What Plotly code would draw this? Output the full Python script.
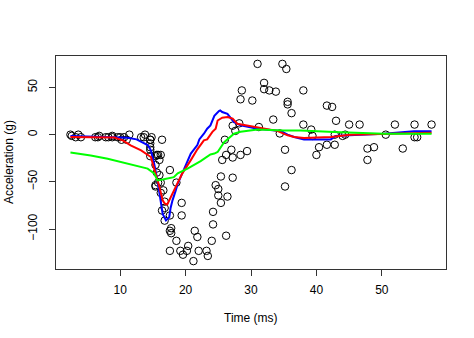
import plotly.graph_objects as go

# Motorcycle crash test: head acceleration vs. time after impact
times = [2.4, 2.6, 3.2, 3.6, 4.0, 6.2, 6.6, 6.8, 7.8, 8.2,
         8.8, 8.8, 9.6, 10.0, 10.2, 10.6, 11.0, 11.4, 13.2, 13.6,
         13.8, 14.6, 14.6, 14.6, 14.6, 14.6, 14.6, 14.8, 15.4, 15.4,
         15.4, 15.4, 15.6, 15.6, 15.8, 15.8, 16.0, 16.0, 16.2, 16.2,
         16.2, 16.4, 16.4, 16.6, 16.8, 16.8, 16.8, 17.6, 17.6, 17.6,
         17.6, 17.8, 17.8, 18.6, 18.6, 19.2, 19.4, 19.4, 19.6, 20.2,
         20.4, 21.2, 21.4, 21.8, 22.0, 23.2, 23.4, 24.0, 24.2, 24.2,
         24.6, 25.0, 25.0, 25.4, 25.4, 25.6, 26.0, 26.2, 26.2, 26.4,
         27.0, 27.2, 27.2, 27.2, 27.6, 28.2, 28.4, 28.4, 28.6, 29.4,
         30.2, 31.0, 31.2, 32.0, 32.0, 32.8, 33.4, 33.8, 34.4, 34.8,
         35.2, 35.2, 35.4, 35.6, 35.6, 36.2, 36.2, 38.0, 38.0, 39.2,
         39.4, 40.0, 40.4, 41.6, 41.6, 42.4, 42.8, 42.8, 43.0, 44.0,
         44.4, 45.0, 46.6, 47.8, 47.8, 48.8, 50.6, 52.0, 53.2, 55.0,
         55.0, 55.4, 57.6]
accel = [0.0, -1.3, -2.7, 0.0, -2.7, -2.7, -2.7, -1.3, -2.7, -2.7,
         -1.3, -2.7, -2.7, -2.7, -5.4, -2.7, -5.4, 0.0, -2.7, -2.7,
         0.0, -13.3, -5.4, -5.4, -9.3, -16.0, -22.8, -2.7, -22.8, -32.1,
         -53.5, -54.9, -40.2, -21.5, -21.5, -50.8, -42.9, -26.8, -21.5, -50.8,
         -61.7, -5.4, -80.4, -59.0, -71.0, -91.1, -77.7, -37.5, -85.6, -123.1,
         -101.9, -99.1, -104.4, -112.5, -50.8, -123.1, -85.6, -72.3, -127.2, -123.1,
         -117.9, -134.0, -101.9, -108.4, -123.1, -123.1, -128.5, -112.5, -95.1, -81.8,
         -53.5, -64.4, -57.6, -72.3, -44.3, -26.8, -5.4, -107.1, -21.5, -65.6,
         -16.0, -45.6, -24.2, 9.5, 4.0, 12.0, -21.5, 37.5, 46.9, -17.4,
         36.2, 75.0, 8.1, 54.9, 48.2, 46.9, 16.0, 45.6, 1.3, 75.0,
         -16.0, -54.9, 69.6, 34.8, 32.1, -37.5, 22.8, 46.9, 10.7, 5.4,
         -1.3, -21.5, -13.3, 30.8, -10.7, 29.4, 0.0, -10.7, 14.7, -1.3,
         0.0, 10.7, 10.7, -26.8, -14.7, -13.3, 0.0, 10.7, -14.7, -2.7,
         10.7, -2.7, 10.7]

# Smoothed fits
blue_x = [2.4, 5.0, 8.0, 11.1, 12.5, 13.2, 14.2, 14.7, 15.2, 15.7, 16.2, 16.5,
          17.0, 17.5, 17.7, 18.0, 18.5, 18.8, 19.8, 20.8, 21.8, 22.1, 22.8, 23.3,
          23.8, 24.4, 25.1, 25.3, 25.6, 26.4, 27.4, 28.4, 31.0, 34.0, 34.5, 35.6,
          36.6, 38.1, 42.2, 42.9, 45.0, 50.3, 54.9, 57.6]
blue_y = [-1.5, -1.8, -2.2, -3.2, -5.0, -7.8, -11.0, -16.6, -30.7, -48.4, -73.0, -84.0,
          -90.8, -87.5, -78.0, -69.6, -59.0, -52.0, -36.0, -20.0, -11.0, -5.0, 1.0, 6.3,
          9.8, 20.0, 25.0, 25.7, 24.0, 22.0, 13.3, 9.8, 6.3, 4.5, 3.8, 0.0,
          -2.5, -5.0, -5.0, -1.5, -0.5, 1.0, 3.5, 3.6]

red_x = [2.4, 5.0, 9.1, 10.4, 11.6, 13.2, 14.4, 14.7, 15.2, 15.6, 16.0, 16.5,
         16.8, 17.2, 17.7, 18.2, 18.8, 19.5, 20.8, 21.8, 22.8, 23.3, 24.1, 24.6,
         24.9, 25.6, 26.4, 27.2, 27.9, 28.4, 31.0, 34.0, 35.6, 36.6, 38.1, 42.2,
         45.2, 50.3, 57.6]
red_y = [-2.5, -2.5, -3.0, -6.0, -11.3, -16.6, -22.0, -23.7, -36.0, -45.0, -55.5, -69.6,
         -73.0, -74.0, -67.0, -59.0, -52.0, -41.0, -27.0, -15.5, -6.0, -5.0, 3.0, 6.3,
         15.0, 18.0, 18.6, 17.0, 11.6, 11.0, 7.4, 4.0, -0.7, -2.5, -3.6, -2.5,
         0.0, 0.5, 2.0]

green_x = [2.4, 5.5, 8.1, 11.1, 13.2, 14.2, 15.2, 15.7, 16.5, 17.2, 18.2, 18.8,
           19.8, 20.3, 22.3, 23.8, 24.4, 24.9, 25.9, 26.4, 26.9, 27.4, 28.4, 31.0,
           35.0, 37.6, 42.7, 50.3, 57.6]
green_y = [-19.0, -22.0, -25.5, -30.7, -34.0, -36.0, -41.0, -48.4, -47.5, -46.6, -45.0, -41.0,
           -37.8, -36.0, -28.0, -21.0, -20.0, -18.4, -8.0, -5.0, -2.5, 1.0, 3.0, 5.5,
           4.5, 4.5, 2.8, 1.0, 1.0]

x_ticks = [10, 20, 30, 40, 50]
y_ticks = [-100, -50, 0, 50]

FONT = "Liberation Sans, Arial, Helvetica, sans-serif"

fig = go.Figure()
fig.add_trace(go.Scatter(
    x=times, y=accel, mode="markers",
    marker=dict(symbol="circle-open", size=7.5, color="black", line=dict(width=1, color="black")),
    showlegend=False, hoverinfo="skip"))
for xs, ys, col in [(blue_x, blue_y, "#0000FF"), (red_x, red_y, "#FF0000"), (green_x, green_y, "#00FF00")]:
    fig.add_trace(go.Scatter(x=xs, y=ys, mode="lines", line=dict(color=col, width=2),
                             showlegend=False, hoverinfo="skip"))

axis_common = dict(
    showgrid=False, zeroline=False, showline=True, mirror=True,
    linecolor="#333333", linewidth=1, ticks="outside", ticklen=6, tickwidth=1,
    tickcolor="#333333", tickfont=dict(family=FONT, size=12, color="black"),
)
fig.update_xaxes(range=[0.192, 59.808], tickvals=x_ticks, ticklabelstandoff=4, **axis_common)
fig.update_yaxes(range=[-142.36, 83.36], tickvals=y_ticks, tickangle=-90, ticklabelstandoff=7, **axis_common)

fig.add_annotation(text="Time (ms)", xref="paper", yref="paper", x=0.5, y=-0.228,
                   xanchor="center", yanchor="middle", showarrow=False,
                   font=dict(family=FONT, size=12, color="black"))
fig.add_annotation(text="Acceleration (g)", xref="paper", yref="paper", x=-0.1215, y=0.5,
                   xanchor="center", yanchor="middle", textangle=-90, showarrow=False,
                   font=dict(family=FONT, size=12, color="black"))

fig.update_layout(
    width=474, height=338,
    margin=dict(l=56, r=28, t=56, b=69),
    paper_bgcolor="white", plot_bgcolor="white",
)
fig.write_html("out.html")
